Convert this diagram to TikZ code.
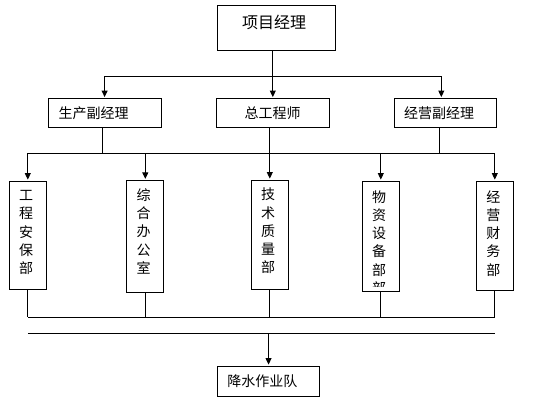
\documentclass[tikz,border=0pt]{standalone}
\usepackage{fontspec}
\newfontfamily\cjk{Noto Sans CJK SC}
\usetikzlibrary{arrows.meta}
\begin{document}
\begin{tikzpicture}[x=1pt,y=-1pt,
  ln/.style={line width=0.9pt},
  arr/.style={ln,-{Triangle[length=6.5pt,width=6pt]},shorten >=1pt},
  box/.style={draw,line width=0.9pt,inner sep=0pt},
  lbl/.style={inner sep=0pt,font=\cjk\fontsize{14}{14}\selectfont},
  vlbl/.style={inner sep=0pt,align=center,font=\cjk\fontsize{14}{18.3}\selectfont}]
\fill[white] (0,0) rectangle (553,402);
\useasboundingbox (0,0) rectangle (553,402);
% boxes
\node[box,minimum width=117.7,minimum height=44.5] (pm) at (276.2,28) {};
\node[box,minimum width=112.7,minimum height=28.8] (sc) at (104.75,112.9) {};
\node[box,minimum width=113,minimum height=28.8] (zg) at (272.8,112.9) {};
\node[box,minimum width=102,minimum height=28.8] (jy) at (445.7,112.9) {};
\node[box,minimum width=37,minimum height=108] (d1) at (27.8,235) {};
\node[box,minimum width=37,minimum height=112] (d2) at (145.3,236.3) {};
\node[box,minimum width=37,minimum height=109.3] (d3) at (269.8,234.65) {};
\node[box,minimum width=37,minimum height=110.7] (d4) at (380.8,236.35) {};
\node[box,minimum width=37,minimum height=109.3] (d5) at (494.8,235.65) {};
\node[box,minimum width=102.5,minimum height=30.7] (bt) at (268.55,381.35) {};
% texts
\node[lbl,font=\cjk\fontsize{16}{16}\selectfont] (pmT) at (274,22) {项目经理};
\node[lbl] (scT) at (93.7,113.3) {生产副经理};
\node[lbl] (zgT) at (272.7,113.3) {总工程师};
\node[lbl] (jyT) at (439,113.3) {经营副经理};
\node[vlbl] (d1T) at (26,232.5) {工\\程\\安\\保\\部};
\node[vlbl] (d2T) at (143.7,231.2) {综\\合\\办\\公\\室};
\node[vlbl] (d3T) at (268,231) {技\\术\\质\\量\\部};
\begin{scope}
\clip (d4.north west) rectangle ([yshift=5.5pt]d4.south east);
\node[vlbl] (d4T) at (379.2,242.45) {物\\资\\设\\备\\部\\部};
\end{scope}
\node[vlbl] (d5T) at (493.3,233.3) {经\\营\\财\\务\\部};
\node[lbl] (btT) at (262.4,380.7) {降水作业队};
% connectors
\coordinate (b1) at (272.8,76);
\coordinate (b1L) at (104.6,76);
\coordinate (b1R) at (441.3,76);
\draw[arr] (b1 |- pm.south) -- (b1 |- zg.north);
\draw[ln] (b1L) -- (b1R);
\draw[arr] (b1L) -- (b1L |- sc.north);
\draw[arr] (b1R) -- (b1R |- jy.north);
\coordinate (b2) at (0,153.3);
\coordinate (c1) at (102.5,153.3);
\coordinate (c3) at (439.2,153.3);
\draw[ln] (d1.north |- b2) -- (d5.north |- b2);
\draw[ln] (c1 |- sc.south) -- (c1);
\draw[ln] (c3 |- jy.south) -- (c3);
\draw[ln] (d3.north |- zg.south) -- (d3.north |- b2);
\foreach \d in {d1,d2,d3,d4,d5}{
  \draw[arr] (\d.north |- b2) -- (\d.north);
}
\coordinate (b3) at (0,317.3);
\coordinate (b4) at (0,333.3);
\foreach \d in {d1,d2,d3,d4,d5}{
  \draw[ln] (\d.south) -- (\d.south |- b3);
}
\draw[ln] (d1.south |- b3) -- (d5.south |- b3);
\draw[ln] (d1.south |- b4) -- (d5.south |- b4);
\draw[arr] (bt.north |- b4) -- (bt.north);
\end{tikzpicture}
\end{document}
